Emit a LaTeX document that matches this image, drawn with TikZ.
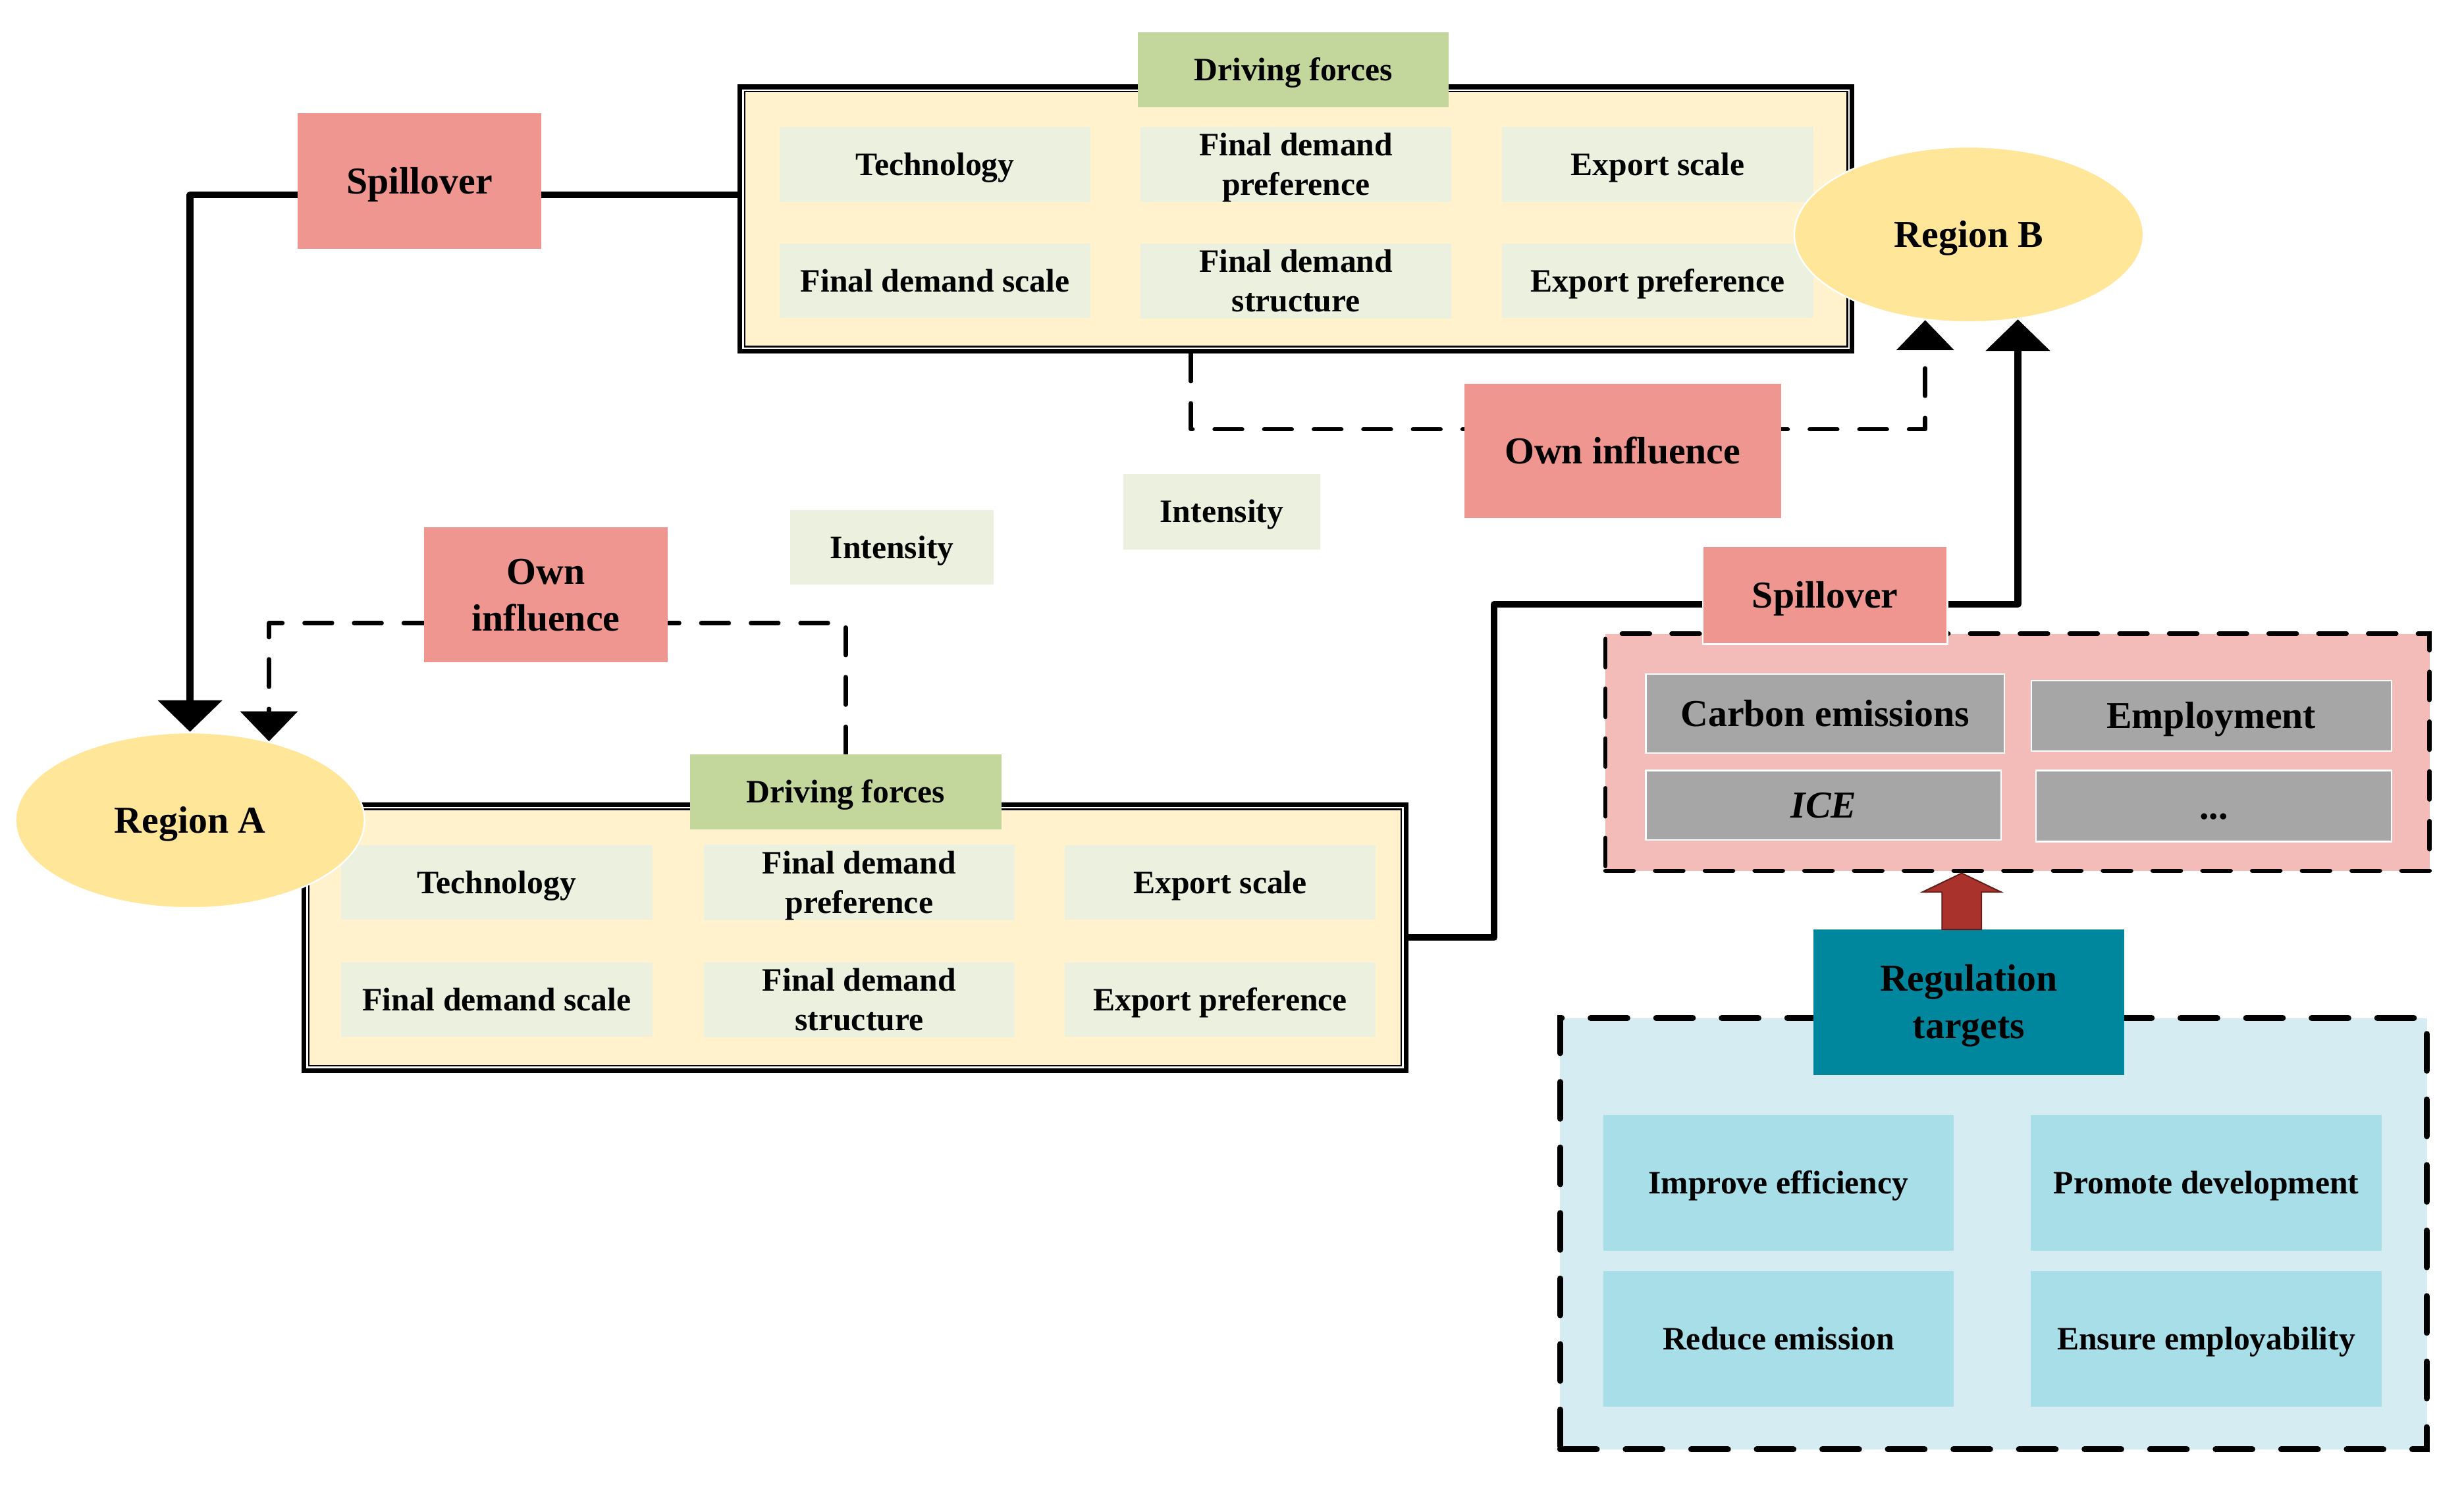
\documentclass[tikz,border=0pt]{standalone}
\usepackage{fontspec}
\setmainfont{Liberation Serif}
\usetikzlibrary{arrows.meta,calc,shapes.geometric}
\pgfdeclarelayer{bg}
\pgfsetlayers{bg,main}
\definecolor{cream}{HTML}{FFF2CC}
\definecolor{cellgreen}{HTML}{EBF1DE}
\definecolor{dfgreen}{HTML}{C3D69B}
\definecolor{salmon}{HTML}{EE968F}
\definecolor{regyellow}{HTML}{FFE699}
\definecolor{pinkbg}{HTML}{F4BCB8}
\definecolor{graycell}{HTML}{A6A6A6}
\definecolor{regteal}{HTML}{00879D}
\definecolor{bluebg}{HTML}{D5EDF2}
\definecolor{bluecell}{HTML}{A7DEE8}
\definecolor{arrowred}{HTML}{A9332C}
\newcommand{\dfsmall}{\fontsize{20.7}{24.8}\selectfont\bfseries}
\newcommand{\dfbig}{\fontsize{24.1}{29.8}\selectfont\bfseries}
\newcommand{\ps}{\vrule width0pt height0.891em depth0.216em\relax}
\tikzset{
  box/.style={inner sep=0pt, outer sep=0pt, align=center},
  cell/.style={box, fill=cellgreen, minimum width=197pt, minimum height=47.2pt, font=\dfsmall},
  dflabel/.style={box, fill=dfgreen, minimum width=197pt, minimum height=47.5pt, font=\dfsmall},
  redlabel/.style={box, fill=salmon, font=\dfbig},
  graybox/.style={box, fill=graycell, draw=white, line width=1pt, font=\dfbig},
  bluebox/.style={box, fill=bluecell, minimum width=222pt, minimum height=86pt, font=\dfsmall},
  region/.style={ellipse, fill=regyellow, draw=white, line width=1pt, inner sep=0pt,
                 minimum width=221pt, minimum height=111pt, font=\dfbig},
  outerbox/.style={draw=black, line width=3pt, fill=white, inner sep=0pt, outer sep=1.5pt},
  innerframe/.style={draw=black, line width=1pt, fill=cream},
  solidline/.style={draw=black, line width=4.3pt, line join=round},
  dashline/.style={draw=black, line width=2.8pt, dash pattern=on 17.4pt off 14pt, line cap=round, line join=round},
  soltip/.style={-{Triangle[width=40pt,length=20pt]}},
  dashtip/.style={-{Triangle[width=36pt,length=19pt]}},
  pinkframe/.style={box, fill=pinkbg, draw=black, line width=2.8pt, dash pattern=on 17.8pt off 13.7pt, line cap=round},
  blueframe/.style={box, fill=bluebg, draw=black, line width=3.7pt, dash pattern=on 23.3pt off 18.2pt, line cap=round},
}
\begin{document}
\begin{tikzpicture}[x=1pt,y=-1pt]
\useasboundingbox (0,0) rectangle (1560,941.7);

% ---------- top block (Region B drivers)
\node[outerbox, minimum width=704pt, minimum height=167.5pt] (topbox) at (820.5,138.75) {};
\draw[innerframe] ($(topbox.north west)+(4.5,4.5)$) rectangle ($(topbox.south east)+(-4.5,-4.5)$);
\node[cell] (tTech) at (592,104.2) {\ps Technology};
\node[cell] (tFDP) at (820.5,104.2) {\ps Final demand\\\ps preference};
\node[cell] (tES) at (1049.5,104.2) {\ps Export scale};
\node[cell] (tFDS) at (592,177.9) {\ps Final demand scale};
\node[cell] (tFDSt) at (820.5,177.9) {\ps Final demand\\\ps structure};
\node[cell] (tEP) at (1049.5,177.9) {\ps Export preference};
\node[dflabel] (dfT) at (818.7,44.25) {\ps Driving forces};

% ---------- bottom block (Region A drivers)
\node[outerbox, minimum width=697.6pt, minimum height=168.5pt] (botbox) at (541.3,593.75) {};
\draw[innerframe] ($(botbox.north west)+(4.5,4.5)$) rectangle ($(botbox.south east)+(-4.5,-4.5)$);
\node[cell] (bTech) at (314.5,558.9) {\ps Technology};
\node[cell] (bFDP) at (544,558.9) {\ps Final demand\\\ps preference};
\node[cell] (bES) at (772.5,558.9) {\ps Export scale};
\node[cell] (bFDS) at (314.5,633.2) {\ps Final demand scale};
\node[cell] (bFDSt) at (544,633.2) {\ps Final demand\\\ps structure};
\node[cell] (bEP) at (772.5,633.2) {\ps Export preference};
\node[dflabel] (dfB) at (535.4,501.4) {\ps Driving forces};

% ---------- regions
\node[region] (regB) at (1246.5,148.5) {\ps Region B};
\node[region] (regA) at (120.3,519.5) {\ps Region A};

% ---------- intensity labels
\node[cell, minimum width=128.7pt, minimum height=47.3pt] (int1) at (564.7,346.7) {\ps Intensity};
\node[cell, minimum width=125pt, minimum height=48pt] (int2) at (773.5,324) {\ps Intensity};

% ---------- red labels
\node[redlabel, minimum width=154.3pt, minimum height=85.8pt] (spillA) at (265.5,114.6) {\ps Spillover};
\node[redlabel, minimum width=154.4pt, minimum height=85.4pt] (ownA) at (345.6,376.7) {\ps Own\\\ps influence};
\node[redlabel, minimum width=200.6pt, minimum height=85pt] (ownB) at (1027.3,285.5) {\ps Own influence};

% ---------- target block
\node[pinkframe, minimum width=521.8pt, minimum height=150.1pt] (targets) at (1277.3,476.45) {};
\node[redlabel, draw=white, line width=1pt, minimum width=155pt, minimum height=62pt] (spillB) at (1155.5,377) {\ps Spillover};
\node[graybox, minimum width=227pt, minimum height=50pt] (carbon) at (1155.5,452) {\ps Carbon emissions};
\node[graybox, minimum width=228pt, minimum height=44.6pt] (employ) at (1400,453.3) {\ps Employment};
\node[graybox, minimum width=225pt, minimum height=44pt] (ice) at (1154.5,510) {\ps\textit{ICE}};
\node[graybox, minimum width=225pt, minimum height=45pt] (dots) at (1401.5,510.5) {\ps ...};

% ---------- regulation block
\node[blueframe, minimum width=548.8pt, minimum height=273pt] (regbox) at (1262.1,781.3) {};
\node[box, fill=regteal, minimum width=197pt, minimum height=92pt, font=\dfbig] (reg) at (1246.5,634.6) {\ps Regulation\\\ps targets};
\node[bluebox] (impr) at (1126,749) {\ps Improve efficiency};
\node[bluebox] (prom) at (1396.8,749) {\ps Promote development};
\node[bluebox] (redu) at (1126,847.8) {\ps Reduce emission};
\node[bluebox] (ensu) at (1396.8,847.8) {\ps Ensure employability};

% block arrow from regulation targets to the target block
\draw[fill=arrowred, draw=arrowred!55!black, line width=0.8pt]
  ($(reg.north)+(-17,0)$) -- ($(reg.north)+(-17,-23.6)$) -- ($(reg.north)+(-29.5,-23.6)$)
  -- ($(reg.north)+(-4.5,-35.6)$) -- ($(reg.north)+(20.5,-23.6)$) -- ($(reg.north)+(8,-23.6)$)
  -- ($(reg.north)+(8,0)$) -- cycle;

% ---------- connectors
\begin{pgfonlayer}{bg}
\draw[solidline, soltip] ($(topbox.west)+(0,-15.35)$) -| (regA.north);
\draw[solidline, soltip] (botbox.east) -| ($(spillB.west)+(-132,5.6)$) -- ($(spillB.west)+(0,5.6)$) -| (regB.300.6);
\draw[dashline, dashtip] (dfB.north) -- ++(0,-83) -| (regA.45);
\draw[dashline, dashtip] ($(topbox.south west)+(287,0)$) -- ++(0,47.8) -| (regB.243.5);
\end{pgfonlayer}
\end{tikzpicture}
\end{document}
